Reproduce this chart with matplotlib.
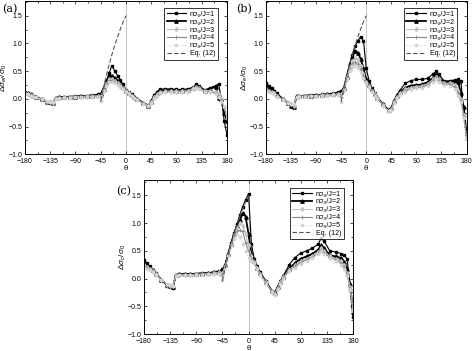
import matplotlib
matplotlib.use("Agg")
import matplotlib.pyplot as plt
from matplotlib.ticker import MultipleLocator

plt.rcParams['font.family'] = ['Liberation Sans', 'DejaVu Sans']
plt.rcParams['mathtext.fontset'] = 'custom'
plt.rcParams['mathtext.rm'] = 'Liberation Sans'
plt.rcParams['mathtext.it'] = 'Liberation Sans:italic'

# angle grid (degrees)
theta = [-180, -175, -170, -165, -160, -150, -140, -135, -130, -125,
         -120, -110, -100, -90, -80, -70, -60, -50, -45, -40,
         -35, -30, -25, -20, -15, -10, -5, 0, 5, 10,
         15, 20, 30, 40, 45, 50, 55, 60, 70, 80,
         90, 100, 110, 120, 125, 130, 140, 150, 160, 165,
         170, 175, 180]

# Eq. (12)
theta_eq = [-45, -40, -35, -30, -25, -20, -15, -10, -5, 0]
eq12 = [-0.05, 0.20, 0.42, 0.62, 0.80, 0.97, 1.12, 1.26, 1.39, 1.50]

# panel (a)
a1 = [0.13, 0.11, 0.09, 0.06, 0.04, -0.01, -0.05, -0.07, -0.08, 0.02,
      0.03, 0.04, 0.04, 0.05, 0.05, 0.06, 0.07, 0.08, 0.09, 0.20,
      0.32, 0.47, 0.60, 0.50, 0.42, 0.34, 0.26, 0.16, 0.12, 0.08,
      0.04, 0.00, -0.07, -0.12, -0.03, 0.07, 0.13, 0.17, 0.18, 0.18,
      0.17, 0.17, 0.18, 0.21, 0.26, 0.24, 0.16, 0.20, 0.24, 0.27,
      0.00, -0.40, -0.65]
a2 = [0.11, 0.10, 0.08, 0.06, 0.04, -0.01, -0.05, -0.06, -0.07, 0.02,
      0.03, 0.03, 0.04, 0.04, 0.05, 0.05, 0.06, 0.07, 0.08, 0.18,
      0.30, 0.42, 0.42, 0.38, 0.33, 0.28, 0.22, 0.15, 0.11, 0.07,
      0.03, 0.00, -0.07, -0.12, -0.05, 0.05, 0.10, 0.14, 0.16, 0.16,
      0.15, 0.15, 0.16, 0.20, 0.24, 0.21, 0.15, 0.18, 0.22, 0.02,
      0.00, -0.25, -0.40]
a3 = [0.10, 0.09, 0.07, 0.05, 0.03, -0.01, -0.05, -0.06, -0.07, 0.01,
      0.02, 0.03, 0.03, 0.04, 0.04, 0.05, 0.05, 0.06, 0.05, 0.16,
      0.27, 0.36, 0.36, 0.33, 0.29, 0.25, 0.20, 0.14, 0.10, 0.06,
      0.02, -0.01, -0.08, -0.12, -0.06, 0.03, 0.08, 0.12, 0.14, 0.14,
      0.14, 0.14, 0.15, 0.19, 0.22, 0.20, 0.14, 0.15, 0.12, 0.08,
      0.00, -0.15, -0.35]
a4 = [0.10, 0.08, 0.07, 0.05, 0.03, -0.01, -0.05, -0.05, -0.06, 0.01,
      0.02, 0.02, 0.03, 0.03, 0.04, 0.04, 0.05, 0.05, 0.03, 0.15,
      0.25, 0.33, 0.33, 0.30, 0.27, 0.23, 0.19, 0.13, 0.09, 0.05,
      0.02, -0.01, -0.08, -0.12, -0.07, 0.02, 0.07, 0.11, 0.13, 0.13,
      0.13, 0.13, 0.14, 0.18, 0.21, 0.19, 0.13, 0.13, 0.10, 0.05,
      -0.03, -0.15, -0.30]
a5 = [0.09, 0.08, 0.06, 0.04, 0.03, -0.01, -0.04, -0.05, -0.06, 0.00,
      0.01, 0.02, 0.02, 0.03, 0.03, 0.04, 0.04, 0.04, -0.03, 0.14,
      0.23, 0.30, 0.30, 0.28, 0.25, 0.22, 0.18, 0.13, 0.09, 0.05,
      0.01, -0.02, -0.09, -0.13, -0.08, 0.01, 0.06, 0.10, 0.12, 0.12,
      0.12, 0.12, 0.13, 0.17, 0.20, 0.18, 0.12, 0.12, 0.08, 0.03,
      -0.05, -0.12, -0.25]

# panel (b)
b1 = [0.28, 0.24, 0.20, 0.15, 0.10, 0.00, -0.08, -0.13, -0.15, 0.05,
      0.06, 0.06, 0.07, 0.07, 0.08, 0.09, 0.10, 0.12, 0.14, 0.20,
      0.40, 0.62, 0.80, 0.95, 1.05, 1.12, 1.05, 0.55, 0.33, 0.20,
      0.10, 0.02, -0.10, -0.20, -0.16, -0.03, 0.07, 0.15, 0.28, 0.33,
      0.35, 0.35, 0.37, 0.45, 0.50, 0.45, 0.32, 0.33, 0.34, 0.35,
      0.32, -0.30, -0.65]
b2 = [0.22, 0.20, 0.17, 0.13, 0.08, 0.00, -0.08, -0.12, -0.14, 0.05,
      0.05, 0.06, 0.06, 0.07, 0.07, 0.08, 0.09, 0.10, 0.12, 0.20,
      0.40, 0.60, 0.75, 0.87, 0.83, 0.72, 0.55, 0.35, 0.25, 0.17,
      0.09, 0.02, -0.10, -0.20, -0.17, -0.04, 0.05, 0.12, 0.20, 0.24,
      0.25, 0.26, 0.30, 0.38, 0.44, 0.38, 0.30, 0.31, 0.33, 0.30,
      0.10, -0.15, -0.62]
b3 = [0.17, 0.15, 0.13, 0.10, 0.06, -0.01, -0.07, -0.10, -0.12, 0.04,
      0.05, 0.05, 0.06, 0.06, 0.07, 0.07, 0.08, 0.09, 0.08, 0.18,
      0.38, 0.55, 0.68, 0.73, 0.70, 0.60, 0.45, 0.30, 0.23, 0.15,
      0.08, 0.01, -0.11, -0.21, -0.18, -0.05, 0.04, 0.10, 0.17, 0.20,
      0.22, 0.23, 0.27, 0.35, 0.40, 0.35, 0.28, 0.28, 0.25, 0.15,
      0.00, -0.30, -0.68]
b4 = [0.16, 0.14, 0.12, 0.09, 0.05, -0.01, -0.07, -0.09, -0.11, 0.04,
      0.04, 0.05, 0.05, 0.06, 0.06, 0.07, 0.07, 0.08, 0.04, 0.16,
      0.36, 0.52, 0.63, 0.66, 0.62, 0.53, 0.41, 0.29, 0.22, 0.14,
      0.07, 0.00, -0.12, -0.22, -0.19, -0.06, 0.03, 0.09, 0.15, 0.18,
      0.20, 0.21, 0.25, 0.33, 0.38, 0.33, 0.26, 0.26, 0.21, 0.10,
      -0.03, -0.32, -0.70]
b5 = [0.14, 0.12, 0.10, 0.08, 0.04, -0.02, -0.07, -0.09, -0.10, 0.03,
      0.04, 0.04, 0.05, 0.05, 0.06, 0.06, 0.07, 0.07, -0.05, 0.15,
      0.35, 0.50, 0.60, 0.60, 0.55, 0.48, 0.38, 0.28, 0.21, 0.13,
      0.06, -0.01, -0.12, -0.22, -0.20, -0.07, 0.02, 0.08, 0.13, 0.17,
      0.19, 0.20, 0.24, 0.31, 0.36, 0.31, 0.25, 0.24, 0.18, 0.05,
      -0.05, -0.35, -0.72]

# panel (c)
c1 = [0.33, 0.28, 0.22, 0.16, 0.10, -0.02, -0.13, -0.15, -0.17, 0.07,
      0.08, 0.08, 0.09, 0.09, 0.10, 0.10, 0.12, 0.14, 0.17, 0.25,
      0.45, 0.65, 0.82, 0.98, 1.15, 1.30, 1.42, 1.53, 0.62, 0.35,
      0.22, 0.12, -0.05, -0.22, -0.25, -0.15, -0.05, 0.05, 0.25, 0.38,
      0.46, 0.50, 0.55, 0.62, 0.73, 0.68, 0.50, 0.48, 0.45, 0.42,
      0.35, -0.20, -0.70]
c2 = [0.28, 0.25, 0.20, 0.15, 0.09, -0.02, -0.12, -0.14, -0.15, 0.07,
      0.08, 0.08, 0.08, 0.09, 0.09, 0.10, 0.11, 0.12, 0.15, 0.25,
      0.45, 0.62, 0.80, 0.95, 1.05, 1.18, 1.12, 0.80, 0.45, 0.32,
      0.20, 0.10, -0.06, -0.22, -0.26, -0.16, -0.06, 0.03, 0.18, 0.28,
      0.36, 0.40, 0.45, 0.52, 0.60, 0.55, 0.42, 0.40, 0.37, 0.30,
      0.18, -0.10, -0.60]
c3 = [0.24, 0.21, 0.17, 0.13, 0.08, -0.02, -0.11, -0.13, -0.14, 0.06,
      0.07, 0.07, 0.07, 0.08, 0.08, 0.09, 0.10, 0.11, 0.10, 0.23,
      0.42, 0.60, 0.78, 0.92, 1.00, 0.95, 0.80, 0.60, 0.40, 0.30,
      0.19, 0.09, -0.07, -0.23, -0.27, -0.17, -0.07, 0.02, 0.16, 0.24,
      0.31, 0.36, 0.41, 0.48, 0.55, 0.50, 0.40, 0.36, 0.31, 0.24,
      0.10, -0.15, -0.58]
c4 = [0.22, 0.19, 0.16, 0.12, 0.07, -0.02, -0.11, -0.12, -0.13, 0.06,
      0.06, 0.07, 0.07, 0.07, 0.08, 0.08, 0.09, 0.10, 0.05, 0.22,
      0.41, 0.58, 0.74, 0.85, 0.87, 0.85, 0.65, 0.50, 0.36, 0.29,
      0.18, 0.08, -0.08, -0.24, -0.28, -0.18, -0.08, 0.01, 0.14, 0.22,
      0.29, 0.34, 0.39, 0.46, 0.52, 0.47, 0.38, 0.34, 0.28, 0.21,
      0.07, -0.18, -0.56]
c5 = [0.20, 0.18, 0.15, 0.11, 0.07, -0.02, -0.10, -0.12, -0.13, 0.05,
      0.06, 0.06, 0.06, 0.07, 0.07, 0.08, 0.08, 0.09, -0.03, 0.20,
      0.40, 0.58, 0.72, 0.80, 0.75, 0.62, 0.50, 0.38, 0.32, 0.28,
      0.17, 0.07, -0.09, -0.25, -0.29, -0.19, -0.09, 0.00, 0.13, 0.20,
      0.27, 0.32, 0.37, 0.44, 0.50, 0.45, 0.37, 0.32, 0.25, 0.18,
      0.05, -0.20, -0.55]

labels = ['nσ₀/J=1', 'nσ₀/J=2', 'nσ₀/J=3', 'nσ₀/J=4', 'nσ₀/J=5', 'Eq. (12)']
styles = [
    dict(color='black', lw=0.8, marker='s', ms=2.0),
    dict(color='black', lw=1.3, marker='^', ms=2.4),
    dict(color='#c4c4c4', lw=0.8, marker='d', ms=2.0),
    dict(color='#8a8a8a', lw=0.8, marker='+', ms=2.6, mew=0.6),
    dict(color='#d2d2d2', lw=0.8, ls=':', marker='o', ms=1.6),
]

panels = [
    ('(a)', [0.0527, 0.5604, 0.4262, 0.4375], [a1, a2, a3, a4, a5],
     r'$\Delta\sigma_{ef}/\sigma_0$', (0.004, 0.975)),
    ('(b)', [0.5612, 0.5604, 0.4230, 0.4375], [b1, b2, b3, b4, b5],
     r'$\Delta\sigma_{e}/\sigma_0$', (0.498, 0.975)),
    ('(c)', [0.3038, 0.0484, 0.4410, 0.4374], [c1, c2, c3, c4, c5],
     r'$\Delta\sigma_{c}/\sigma_0$', (0.245, 0.455)),
]

fig = plt.figure(figsize=(4.74, 3.51), dpi=100)

for tag, rect, series, ylab, tpos in panels:
    ax = fig.add_axes(rect)
    ax.axvline(0, color='#c8c8c8', lw=0.8, zorder=0)
    for s, st, lab in zip(series, styles, labels):
        ax.plot(theta, s, label=lab, **st)
    ax.plot(theta_eq, eq12, color='#555555', lw=0.8, ls=(0, (4, 2)),
            label=labels[5])
    ax.set_xlim(-180, 180)
    ax.set_ylim(-1.0, 1.77)
    ax.set_xticks([-180, -135, -90, -45, 0, 45, 90, 135, 180])
    ax.set_yticks([-1.0, -0.5, 0.0, 0.5, 1.0, 1.5])
    ax.xaxis.set_minor_locator(MultipleLocator(22.5))
    ax.yaxis.set_minor_locator(MultipleLocator(0.25))
    ax.tick_params(which='both', direction='in', top=True, right=True,
                   labelsize=5.0, width=0.5)
    ax.tick_params(axis='x', pad=3.0)
    ax.tick_params(axis='y', pad=2.0)
    ax.tick_params(which='major', length=2.5)
    ax.tick_params(which='minor', length=1.5)
    for sp in ax.spines.values():
        sp.set_linewidth(0.7)
    ax.set_xlabel('θ', fontsize=5.8)
    ax.xaxis.set_label_coords(0.5, -0.072)
    ax.set_ylabel(ylab, fontsize=6)
    ax.yaxis.set_label_coords(-0.078, 0.5)
    leg = ax.legend(loc='upper right', prop={'size': 5.1}, frameon=True,
                    fancybox=False, handlelength=2.8, borderpad=0.35,
                    labelspacing=0.12, handletextpad=0.5, borderaxespad=0,
                    bbox_to_anchor=(0.955, 0.95))
    leg.get_frame().set_edgecolor('black')
    leg.get_frame().set_linewidth(0.7)
    fig.text(tpos[0], tpos[1], tag, fontsize=8, family='DejaVu Serif',
             va='center', ha='left')

fig.savefig('out.png', dpi=100)
